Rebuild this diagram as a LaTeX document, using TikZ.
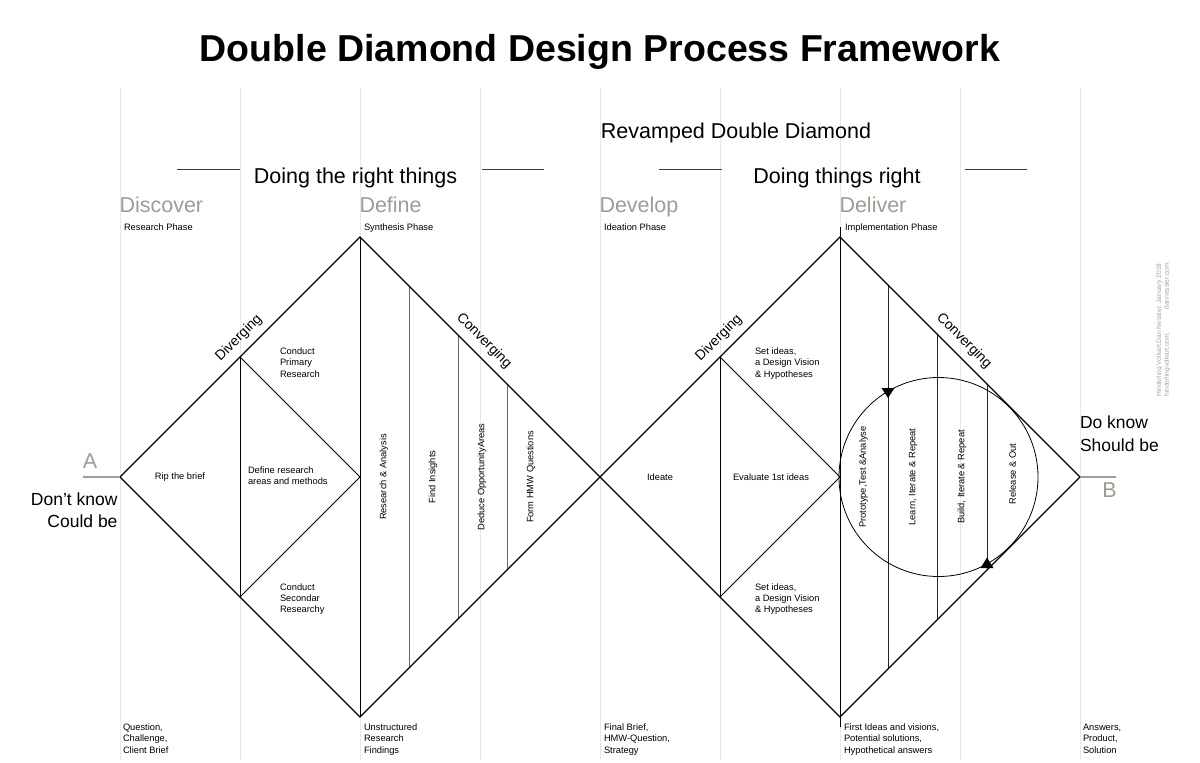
\documentclass[tikz,border=0pt]{standalone}
\usepackage{fontspec}
\setmainfont{Liberation Sans}
\definecolor{gridc}{RGB}{232,232,232}
\definecolor{phasec}{RGB}{158,157,149}
\definecolor{innerc}{RGB}{105,105,105}
\definecolor{creditc}{RGB}{165,165,165}
\definecolor{rulec}{RGB}{60,60,60}
\begin{document}
\begin{tikzpicture}[x=1pt,y=-1pt,
  every node/.style={inner sep=0pt,outer sep=0pt},
  gridline/.style={draw=gridc,line width=0.8pt},
  edgeline/.style={draw=black,line width=1.3pt,line join=miter},
  thinline/.style={draw=black,line width=0.8pt},
  grayline/.style={draw=innerc,line width=0.9pt},
  darkline/.style={draw=black!85,line width=0.8pt},
  rulel/.style={draw=rulec,line width=0.8pt},
  abline/.style={draw=phasec,line width=1.6pt},
  titlef/.style={font=\fontsize{37.5}{40}\selectfont\bfseries},
  bigf/.style={font=\fontsize{21.5}{24}\selectfont},
  phasef/.style={font=\fontsize{21.5}{24}\selectfont,text=phasec},
  sidef/.style={font=\fontsize{17.5}{22}\selectfont},
  edgef/.style={font=\fontsize{14}{16}\selectfont},
  smallf/.style={font=\fontsize{9.3}{11.2}\selectfont},
  botf/.style={font=\fontsize{9.3}{11.4}\selectfont,align=left,anchor=north west},
  multif/.style={font=\fontsize{9.3}{11.2}\selectfont,align=left,anchor=north west},
  creditf/.style={font=\fontsize{6.6}{7.5}\selectfont,text=creditc,rotate=90}]
\useasboundingbox[fill=white] (0,0) rectangle (1200,763);

% grid
\foreach \gx in {120,240,360,480,600,720,840,960,1080}
  \draw[gridline] (\gx,88) -- (\gx,760);

% title
\node[titlef,anchor=base] (title) at (600,61) {Double Diamond Design Process Framework};
\node[bigf,anchor=base] (revamp) at (736,138) {Revamped Double Diamond};
\node[bigf,anchor=base] (right1) at (355.5,183) {Doing the right things};
\node[bigf,anchor=base] (right2) at (837,183) {Doing things right};
\coordinate (r1a) at (177,169); \coordinate (r1b) at (240,169);
\coordinate (r1c) at (482,169); \coordinate (r1d) at (544,169);
\coordinate (r2a) at (659,169); \coordinate (r2b) at (722,169);
\coordinate (r2c) at (965,169); \coordinate (r2d) at (1027,169);
\draw[rulel] (r1a) -- (r1b);
\draw[rulel] (r1c) -- (r1d);
\draw[rulel] (r2a) -- (r2b);
\draw[rulel] (r2c) -- (r2d);

% phase labels
\node[phasef,anchor=base west] (disc) at (119.5,212) {Discover};
\node[phasef,anchor=base west] (defi) at (359.5,212) {Define};
\node[phasef,anchor=base west] (deve) at (599.5,212) {Develop};
\node[phasef,anchor=base west] (deli) at (839.5,212) {Deliver};
\node[smallf,anchor=base west] (ph1) at (124,230) {Research Phase};
\node[smallf,anchor=base west] (ph2) at (364,230) {Synthesis Phase};
\node[smallf,anchor=base west] (ph3) at (604,230) {Ideation Phase};
\node[smallf,anchor=base west] (ph4) at (845,230) {Implementation Phase};

% diamond coordinates
\coordinate (A) at (120,477);
\coordinate (T1) at (360,237);
\coordinate (B1) at (360,717);
\coordinate (M) at (600,477);
\coordinate (T2) at (840,237);
\coordinate (B2) at (840,717);
\coordinate (Bq) at (1080,477);
\coordinate (U1) at (240,357);
\coordinate (L1) at (240,597);
\coordinate (C1) at (360,477);
\coordinate (U2) at (720,357);
\coordinate (L2) at (720,597);
\coordinate (C2) at (840,477);
\coordinate (T2x) at (840,227);
\coordinate (B2x) at (840,727);

% inner lines diamond 1
\draw[thinline] (U1) -- (L1);
\draw[thinline] (U1) -- (C1);
\draw[thinline] (L1) -- (C1);
\draw[thinline] (T1) -- (B1);
\foreach \vx in {409,458,507}{
  \pgfmathsetmacro{\ty}{237+(\vx-360)}
  \pgfmathsetmacro{\by}{717-(\vx-360)}
  \draw[grayline] (\vx,\ty) -- (\vx,\by);
}
% inner lines diamond 2
\draw[thinline] (U2) -- (L2);
\draw[thinline] (U2) -- (C2);
\draw[thinline] (L2) -- (C2);
\draw[thinline] (T2x) -- (B2x);
\foreach \vx in {888,937,987}{
  \pgfmathsetmacro{\ty}{237+(\vx-840)}
  \pgfmathsetmacro{\by}{717-(\vx-840)}
  \draw[darkline] (\vx,\ty) -- (\vx,\by);
}

% diamonds
\draw[edgeline] (A) -- (T1) -- (M) -- (B1) -- cycle;
\draw[edgeline] (M) -- (T2) -- (Bq) -- (B2) -- cycle;

% loop circle with arrowheads
\draw[thinline] (938.5,477) circle[radius=99.5];
\fill (881.5,388) -- (894.5,388) -- (888,398) -- cycle;
\fill (980.5,568) -- (993.5,568) -- (987,557.5) -- cycle;

% A and B
\coordinate (Aa) at (83,477);
\coordinate (Bb) at (1116,477);
\draw[abline] (Aa) -- (A);
\draw[abline] (Bq) -- (Bb);
\node[phasef,anchor=base] (labA) at (90,468) {A};
\node[phasef,anchor=base] (labB) at (1109.5,497) {B};
\node[sidef,anchor=base east] (dk1) at (117.5,505) {Don’t know};
\node[sidef,anchor=base east] (dk2) at (117.5,527) {Could be};
\node[sidef,anchor=base west] (kn1) at (1080,428) {Do know};
\node[sidef,anchor=base west] (kn2) at (1080,451) {Should be};

% edge labels
\node[edgef,rotate=45] (div1) at (239,338) {Diverging};
\node[edgef,rotate=-45] (con1) at (484,341) {Converging};
\node[edgef,rotate=45] (div2) at (719,338) {Diverging};
\node[edgef,rotate=-45] (con2) at (964,341) {Converging};

% diamond 1 texts
\node[smallf] (rip) at (180,477) {Rip the brief};
\node[multif] (defr) at (248,467) {Define research\\areas and methods};
\node[multif] (cpr) at (280,348) {Conduct\\Primary\\Research};
\node[multif] (csr) at (280,583.5) {Conduct\\Secondar\\Researchy};
\node[smallf,rotate=90] (ra) at (384,477) {Research \& Analysis};
\node[smallf,rotate=90] (fi) at (433,477) {Find Insights};
\node[smallf,rotate=90] (doa) at (482,477) {Deduce OpportunityAreas};
\node[smallf,rotate=90] (hmw) at (531,477) {Form HMW Questions};

% diamond 2 texts
\node[smallf] (ideate) at (660,477) {Ideate};
\node[smallf] (eval) at (771,477) {Evaluate 1st ideas};
\node[multif] (set1) at (755,348) {Set ideas,\\a Design Vision\\\& Hypotheses};
\node[multif] (set2) at (755,583.5) {Set ideas,\\a Design Vision\\\& Hypotheses};
\node[smallf,rotate=90] (pta) at (863.5,477) {Prototype,Test \&Analyse};
\node[smallf,rotate=90] (lir) at (913,477) {Learn, Iterate \& Repeat};
\node[smallf,rotate=90] (bir) at (962,477) {Build, Iterate \& Repeat};
\node[smallf,rotate=90] (ro) at (1012.5,474) {Release \& Out};

% bottom labels
\node[botf] (bot1) at (123,723.5) {Question,\\Challenge,\\Client Brief};
\node[botf] (bot2) at (364,723.5) {Unstructured\\Research\\Findings};
\node[botf] (bot3) at (604,723.5) {Final Brief,\\HMW-Question,\\Strategy};
\node[botf] (bot4) at (844,723.5) {First Ideas and visions,\\Potential solutions,\\Hypothetical answers};
\node[botf] (bot5) at (1083,724) {Answers,\\Product,\\Solution};

% credits
\node[creditf] (cr1) at (1159.5,330) {Hinderling Volkart,Dan Nessler, January 2018};
\node[creditf,anchor=north west] (cr2) at ([xshift=1.5pt]cr1.south west) {hinderlingvolkart.com,};
\node[creditf,anchor=north east] (cr3) at ([xshift=1.5pt]cr1.south east) {dannessler.com};
\end{tikzpicture}
\end{document}
